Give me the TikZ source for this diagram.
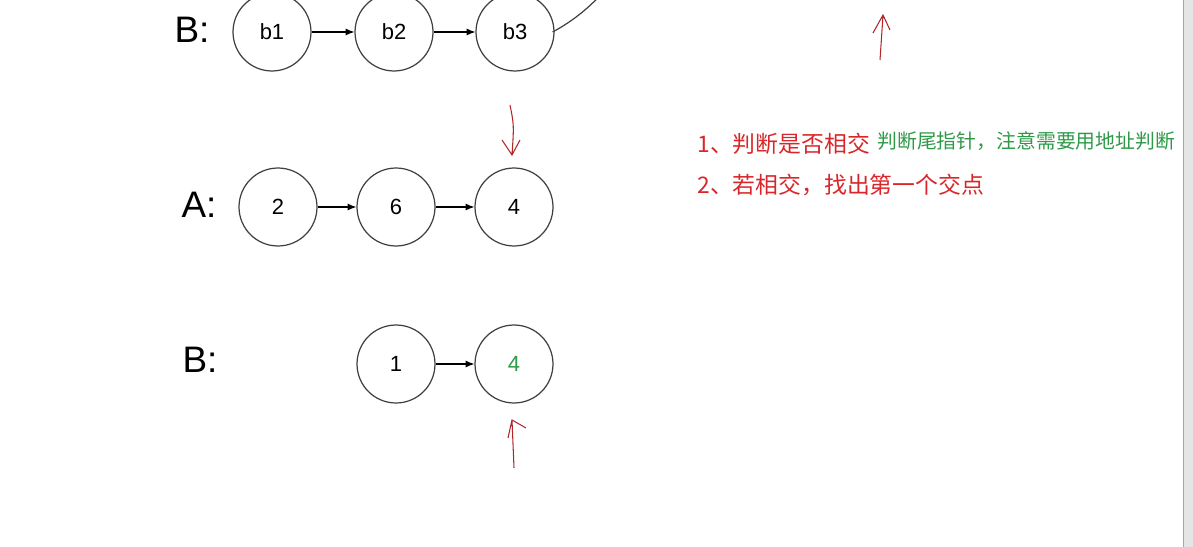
\documentclass[tikz,border=0pt]{standalone}
\usepackage{fontspec}
\setmainfont{Liberation Sans}
\newfontfamily\cjk{Noto Sans CJK SC}
\usetikzlibrary{arrows.meta}
\definecolor{hred}{HTML}{D9262A}
\definecolor{hgreen}{HTML}{2E9A48}
\definecolor{pen}{HTML}{B0262A}
\tikzset{
  nd/.style={circle,draw=black!75,line width=0.7pt,minimum size=1.56cm,inner sep=0pt,font=\fontsize{12.5}{14}\selectfont},
  lnk/.style={-{Latex[length=5pt,width=4pt]},line width=0.6pt},
  lbl/.style={font=\fontsize{21}{24}\selectfont},
  penarr/.style={draw=pen,line width=0.6pt}
}
\begin{document}
\begin{tikzpicture}[x=0.02cm,y=-0.02cm]
\useasboundingbox (0,0) rectangle (1193,547);
\begin{scope}
\clip (0,0) rectangle (1193,547);
\fill[black!10] (1183,0) rectangle (1193,547);
\draw[black!35] (1183,0) -- (1183,547);
\node[nd] (b1) at (272,32) {b1};
\node[nd] (b2) at (394,32) {b2};
\node[nd] (b3) at (515,32) {b3};
\draw[lnk] (b1) -- (b2);
\draw[lnk] (b2) -- (b3);
\coordinate (cend) at (605,-10);
\draw[black!75,line width=0.7pt] (b3.east) ++(-2,0) .. controls (575,20) and (592,5) .. (cend);
\node[lbl] (lb1) at (192,30) {B:};
\node[nd] (a1) at (278,207) {2};
\node[nd] (a2) at (396,207) {6};
\node[nd] (a3) at (514,207) {4};
\draw[lnk] (a1) -- (a2);
\draw[lnk] (a2) -- (a3);
\node[lbl] (la) at (199,205) {A:};
\node[nd] (c1) at (396,364) {1};
\node[nd,text=hgreen] (c2) at (514,364) {4};
\draw[lnk] (c1) -- (c2);
\node[lbl] (lb2) at (200,360) {B:};
% pen arrows
\coordinate (p1s) at (880,60); \coordinate (p1e) at (883,15);
\draw[penarr] (p1s) -- (p1e) (873,33) -- (p1e) -- (890,30);
\coordinate (p2s) at (510,105); \coordinate (p2e) at (512,155);
\draw[penarr] (p2s) .. controls (514,125) .. (p2e) (502,140) -- (p2e) -- (520,140);
\coordinate (p3s) at (514,468); \coordinate (p3e) at (512,420);
\draw[penarr] (p3s) -- (p3e) (508,438) -- (p3e) -- (526,428);
\node[anchor=west,text=hred,font=\cjk\fontsize{13}{16}\selectfont,inner sep=0] (t1) at (697,144) {1、判断是否相交};
\node[anchor=west,text=hgreen,font=\cjk\fontsize{11.3}{13}\selectfont,inner sep=0] (t1g) at (877,141) {判断尾指针，注意需要用地址判断};
\node[anchor=west,text=hred,font=\cjk\fontsize{13}{16}\selectfont,inner sep=0] (t2) at (697,185) {2、若相交，找出第一个交点};
\end{scope}
\end{tikzpicture}
\end{document}
